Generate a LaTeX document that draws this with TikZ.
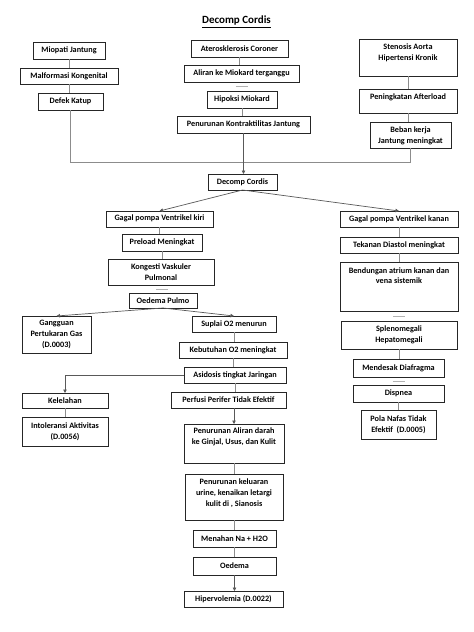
\documentclass[tikz,border=0pt]{standalone}
\usepackage{fontspec}
\setmainfont{Carlito}
\usetikzlibrary{arrows.meta,calc}
\tikzset{
  box/.style={draw=black!85,line width=0.85pt,fill=white,inner sep=0pt,outer sep=0pt},
  txt/.style={font=\bfseries\fontsize{8.2}{10.7}\selectfont,align=center,text=black,inner sep=0pt},
  conn/.style={draw=black!45,line width=0.7pt},
  arr/.style={draw=black!65,line width=0.7pt,-{Triangle[length=3.5pt,width=3.5pt]}},
  stub/.style={draw=black!30,line width=0.8pt}
}
\newcommand\mybox[7]{%
  \pgfmathsetmacro\bxw{#4-#2}%
  \pgfmathsetmacro\bxh{#5-#3}%
  \node[box,minimum width=\bxw pt,minimum height=\bxh pt] (#1) at ({(#2+#4)/2},{(#3+#5)/2}) {};
  \node[txt] (#1-t) at ({(#2+#4)/2},#7) {#6};
}
\begin{document}
\begin{tikzpicture}[x=1pt,y=-1pt]
\useasboundingbox[fill=white] (0,0) rectangle (474,632);
\node[font=\bfseries\fontsize{11}{13}\selectfont,text=black,inner sep=0pt] (title) at (236.5,22) {\underline{Decomp Cordis}};
\mybox{miopati}{33}{42}{105}{59}{Miopati Jantung}{50.5}
\mybox{malf}{20}{68}{118}{84}{Malformasi Kongenital}{76}
\mybox{defek}{38}{93}{103}{110}{Defek Katup}{101.5}
\mybox{ateros}{191}{40}{288}{57}{Aterosklerosis Coroner}{48.5}
\mybox{aliran}{184}{65}{299}{82}{Aliran ke Miokard terganggu}{73.5}
\mybox{hipoksi}{207}{91}{277}{108}{Hipoksi Miokard}{99.5}
\mybox{kontrak}{177}{116}{310}{133}{Penurunan Kontraktilitas Jantung}{124.5}
\mybox{stenosis}{359}{39}{457}{76}{Stenosis Aorta\\Hipertensi Kronik}{53}
\mybox{after}{359}{89}{457}{113}{Peningkatan Afterload}{97}
\mybox{beban}{370}{122}{451}{148}{Beban kerja\\Jantung meningkat}{135.5}
\mybox{decomp}{208}{174}{277}{190}{Decomp Cordis}{182}
\mybox{kiri}{106}{211}{213}{227}{Gagal pompa Ventrikel kiri}{218.5}
\mybox{kanan}{340}{211}{458}{227}{Gagal pompa Ventrikel kanan}{219}
\mybox{preload}{122}{234}{202}{251}{Preload Meningkat}{242.5}
\mybox{kongesti}{108}{259}{214}{285}{Kongesti Vaskuler\\Pulmonal}{272}
\mybox{oedpul}{129}{293}{197}{308}{Oedema Pulmo}{300.5}
\mybox{tekanan}{340}{237}{458}{253}{Tekanan Diastol meningkat}{245}
\mybox{bendungan}{340}{262}{458}{311}{Bendungan atrium kanan dan\\vena sistemik}{275.5}
\mybox{spleno}{341}{321}{457}{349}{Splenomegali\\Hepatomegali}{335}
\mybox{mendesak}{353}{359}{444}{377}{Mendesak Diafragma}{368}
\mybox{dispnea}{353}{385}{444}{402}{Dispnea}{393.5}
\mybox{pola}{361}{410}{436}{439}{Pola Nafas Tidak\\Efektif~~(D.0005)}{424.5}
\mybox{gangguan}{22}{316}{91}{353}{Gangguan\\Pertukaran Gas\\(D.0003)}{334.5}
\mybox{suplai}{192}{316}{276}{332}{Suplai O2 menurun}{324}
\mybox{kebutuhan}{179}{342}{287}{358}{Kebutuhan O2 meningkat}{350}
\mybox{asidosis}{184}{367}{286}{383}{Asidosis tingkat Jaringan}{375}
\mybox{kelelahan}{22}{393}{108}{408}{Kelelahan}{400.5}
\mybox{intol}{22}{417}{108}{446}{Intoleransi Aktivitas\\(D.0056)}{431.5}
\mybox{perfusi}{171}{392}{286}{408}{Perfusi Perifer Tidak Efektif}{400}
\mybox{penaliran}{184}{424}{284}{463}{Penurunan Aliran darah\\ke Ginjal, Usus, dan Kulit}{437}
\mybox{keluaran}{185}{474}{283}{520}{Penurunan keluaran\\urine, kenaikan letargi\\kulit di , Sianosis}{493}
\mybox{menahan}{193}{530}{276}{547}{Menahan Na + H2O}{538.5}
\mybox{oedema}{193}{557}{276}{575}{Oedema}{566}
\mybox{hiper}{184}{591}{283}{607}{Hipervolemia (D.0022)}{599}
% connectors top
\coordinate (mrg) at (0,162);
\draw[conn] (miopati.south) -- (miopati.south |- malf.north);
\draw[conn] (malf.south) -- (malf.south |- defek.north);
\draw[conn] (defek.south) -- (defek.south |- mrg) -- (beban.south |- mrg) -- (beban.south);
\draw[conn] (ateros.south) -- (ateros.south |- aliran.north);
\draw[stub] ($(aliran.south)!.5!(hipoksi.north)$) ++(-6,0) -- ++(12,0);
\draw[conn] (hipoksi.south) -- (hipoksi.south |- kontrak.north);
\draw[arr] (kontrak.south) -- (kontrak.south |- decomp.north);
\draw[conn] (stenosis.south) -- (after.north);
\draw[conn] (after.south) -- (after.south |- beban.north);
\draw[arr] (decomp.south) -- (kiri.north);
\draw[arr] (decomp.south) -- (kanan.north);
% left branch
\draw[conn] (kiri.south) -- (kiri.south |- preload.north);
\draw[conn] (preload.south) -- (preload.south |- kongesti.north);
\draw[stub] ($(kongesti.south)!.5!(oedpul.north)$) ++(-6,0) -- ++(12,0);
\draw[arr] (oedpul.south) -- (gangguan.north);
\draw[arr] (oedpul.south) -- (suplai.north);
\draw[conn] (suplai.south) -- (suplai.south |- kebutuhan.north);
\draw[conn] (kebutuhan.south) -- (kebutuhan.south |- asidosis.north);
\draw[arr] (asidosis.west) -| (kelelahan.north);
\draw[conn] (kelelahan.south) -- (intol.north);
\draw[conn] (asidosis.south) -- (asidosis.south |- perfusi.north);
\draw[arr] (penaliran.north |- perfusi.south) -- (penaliran.north);
\draw[conn] (penaliran.south) -- (penaliran.south |- keluaran.north);
\draw[conn] (keluaran.south) -- (keluaran.south |- menahan.north);
\draw[conn] (menahan.south) -- (menahan.south |- oedema.north);
\draw[arr] (oedema.south) -- (oedema.south |- hiper.north);
% right branch
\draw[conn] (kanan.south) -- (kanan.south |- tekanan.north);
\draw[conn] (tekanan.south) -- (tekanan.south |- bendungan.north);
\draw[stub] ($(bendungan.south)!.5!(spleno.north)$) ++(-6,0) -- ++(12,0);
\draw[conn] (spleno.south) -- (spleno.south |- mendesak.north);
\draw[stub] ($(mendesak.south)!.5!(dispnea.north)$) ++(-6,0) -- ++(12,0);
\draw[conn] (dispnea.south) -- (dispnea.south |- pola.north);
\end{tikzpicture}
\end{document}
